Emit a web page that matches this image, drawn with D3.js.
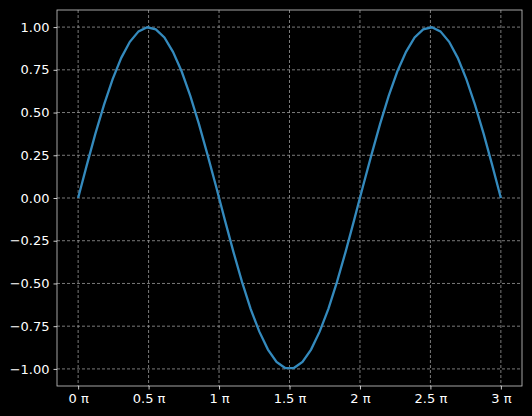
<!DOCTYPE html>
<html><head><meta charset="utf-8">
<script src="https://cdn.jsdelivr.net/npm/d3@7"></script>
<style>body{margin:0;background:#000}svg{display:block}</style>
</head><body><svg id="c" width="532" height="416"></svg>
<script>
// x in units of pi
var xPi = [0, .061, .122, .184, .245, .306, .367, .429, .490, .551, .612, .673, .735, .796, .857, .918, .980,
  1.041, 1.102, 1.163, 1.224, 1.286, 1.347, 1.408, 1.469, 1.531, 1.592, 1.653, 1.714, 1.776, 1.837, 1.898, 1.959,
  2.020, 2.082, 2.143, 2.204, 2.265, 2.327, 2.388, 2.449, 2.510, 2.571, 2.633, 2.694, 2.755, 2.816, 2.878, 2.939, 3];
var yVals = [0, .191, .375, .546, .696, .820, .914, .975, .999, .987, .939, .855, .740, .598, .434, .254, .064,
  -.128, -.315, -.491, -.649, -.782, -.887, -.959, -.995, -.995, -.959, -.887, -.782, -.649, -.491, -.315, -.128,
  .064, .254, .434, .598, .740, .855, .939, .987, .999, .975, .914, .820, .696, .546, .375, .191, 0];
var xTicks = [0, 0.5, 1, 1.5, 2, 2.5, 3];
var yTicks = [-1, -0.75, -0.5, -0.25, 0, 0.25, 0.5, 0.75, 1];

var svg = d3.select("#c");
var L = 57, R = 522, T = 10, B = 386;
var x = d3.scaleLinear().domain([-0.15, 3.15]).range([L, R]);
var y = d3.scaleLinear().domain([-1.1, 1.1]).range([B, T]);

var grid = svg.append("g").attr("stroke", "#999").attr("stroke-width", 0.8).attr("stroke-dasharray", "3,2");
xTicks.forEach(function (t) {
  grid.append("line").attr("x1", x(t)).attr("x2", x(t)).attr("y1", T).attr("y2", B);
});
yTicks.forEach(function (t) {
  grid.append("line").attr("x1", L).attr("x2", R).attr("y1", y(t)).attr("y2", y(t));
});

var line = d3.line().x(function (d, i) { return x(xPi[i]); }).y(function (d) { return y(d); });
svg.append("path").datum(yVals).attr("d", line).attr("fill", "none")
  .attr("stroke", "#348abd").attr("stroke-width", 2.3);

svg.append("rect").attr("x", L).attr("y", T).attr("width", R - L).attr("height", B - T)
  .attr("fill", "none").attr("stroke", "#ccc").attr("stroke-width", 0.8);

var xAxis = svg.append("g").attr("transform", "translate(0," + B + ")")
  .call(d3.axisBottom(x).tickValues(xTicks).tickSize(3.5).tickPadding(4)
    .tickFormat(function (d) { return d + " π"; }));
var yAxis = svg.append("g").attr("transform", "translate(" + L + ",0)")
  .call(d3.axisLeft(y).tickValues(yTicks).tickSize(3.5).tickPadding(4).tickFormat(d3.format(".2f")));
[xAxis, yAxis].forEach(function (a) {
  a.select(".domain").remove();
  a.selectAll("line").attr("stroke", "#fff").attr("stroke-width", 0.8);
  a.selectAll("text").attr("fill", "#fff").style("font-family", "DejaVu Sans").style("font-size", "13px");
});
</script></body></html>
